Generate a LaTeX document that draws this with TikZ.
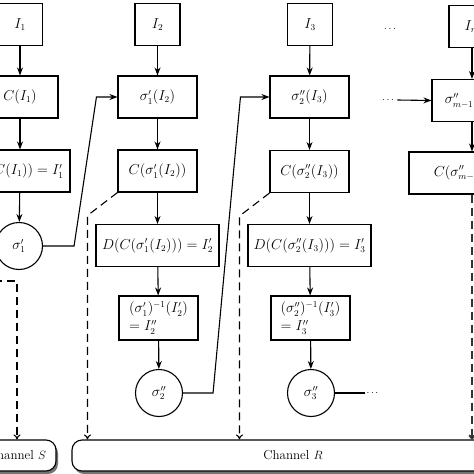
\documentclass[tikz,border=0pt]{standalone}
\usetikzlibrary{arrows.meta,shadows}

\tikzset{
  blk/.style={draw, line width=1.1pt, minimum height=42pt, inner sep=2pt,
    font=\fontsize{13.5}{18}\selectfont},
  sig/.style={draw, circle, line width=1.1pt, minimum size=47pt, inner sep=0pt,
    font=\fontsize{13.5}{16}\selectfont},
  chan/.style={draw, line width=1.1pt, rounded corners=10pt, fill=white,
    minimum height=31pt, font=\fontsize{13}{15}\selectfont,
    drop shadow={shadow xshift=2pt, shadow yshift=-3pt, fill=black!55, opacity=1}},
  arr/.style={line width=1.1pt, -{Stealth[length=8pt,width=6pt]}},
  dsh/.style={line width=1.1pt, dash pattern=on 8pt off 5pt, -{To[length=5pt,width=7pt]}},
}

\begin{document}
\begin{tikzpicture}[x=1pt,y=-1pt]
  \useasboundingbox (0,0) rectangle (474,474);
  % column 1
  \node[blk, minimum width=45pt]  (i1) at (20,24.5) {$I_1$};
  \node[blk, minimum width=76pt]  (c1) at (20,97)   {$C(I_1)$};
  \node[blk, minimum width=100pt] (d1) at (20,171)  {$D(C(I_1)) = I_1'$};
  \node[sig] (s1) at (19,246) {$\sigma_1'$};
  % column 2
  \node[blk, minimum width=45pt]  (i2) at (157.5,24.5) {$I_2$};
  \node[blk, minimum width=79pt]  (p2) at (157.5,97)   {$\sigma_1'(I_2)$};
  \node[blk, minimum width=79pt]  (c2) at (157.5,171)  {$C(\sigma_1'(I_2))$};
  \node[blk, minimum width=123pt] (d2) at (157.5,245.5) {$D(C(\sigma_1'(I_2))) = I_2'$};
  \node[blk, minimum width=79pt, minimum height=44pt, align=left] (r2) at (158.5,318)
    {$(\sigma_1')^{-1}(I_2')$\\$= I_2''$};
  \node[sig] (s2) at (159,393) {$\sigma_2''$};
  % column 3
  \node[blk, minimum width=45pt]  (i3) at (310,24.5) {$I_3$};
  \node[blk, minimum width=79pt]  (p3) at (309.5,97)  {$\sigma_2''(I_3)$};
  \node[blk, minimum width=79pt]  (c3) at (309.5,171.5) {$C(\sigma_2''(I_3))$};
  \node[blk, minimum width=123pt] (d3) at (309.5,245.5) {$D(C(\sigma_2''(I_3))) = I_3'$};
  \node[blk, minimum width=79pt, minimum height=44pt, align=left] (r3) at (310.5,318)
    {$(\sigma_2'')^{-1}(I_3')$\\$= I_3''$};
  \node[sig] (s3) at (311,393) {$\sigma_3''$};
  % column m
  \node[blk, minimum width=46pt]  (im) at (472,26.5) {$I_m$};
  \node[blk, minimum width=80pt]  (pm) at (472,100.5) {$\sigma_{m-1}''(I_m)$};
  \node[blk, minimum width=126pt] (cm) at (472,173) {$C(\sigma_{m-1}''(I_m))$};
  \node (dt1) at (390,29)  {$\cdots$};
  \node (dt2) at (388,100) {$\cdots$};
  % channels
  \node[chan, minimum width=78pt]  (chs) at (17,455.5)  {Channel $S$};
  \node[chan, minimum width=442pt] (chr) at (293,455.5) {Channel $R$};

  % arrows down the columns
  \draw[arr] (i1) -- (c1);
  \draw[arr] (c1) -- (d1);
  \draw[arr] (d1) -- (s1);
  \draw[arr] (i2) -- (p2);
  \draw[arr] (p2) -- (c2);
  \draw[arr] (c2) -- (d2);
  \draw[arr] (d2) -- (r2);
  \draw[arr] (r2) -- (s2);
  \draw[arr] (i3) -- (p3);
  \draw[arr] (p3) -- (c3);
  \draw[arr] (c3) -- (d3);
  \draw[arr] (d3) -- (r3);
  \draw[arr] (r3) -- (s3);
  \draw[arr] (im) -- (pm);
  \draw[arr] (pm) -- (cm);
  % keys handed on
  \draw[arr] (s1.east) -- ++(31,0) -- ([xshift=-21pt]p2.west) -- (p2.west);
  \draw[arr] (s2.east) -- ++(30,0) -- ([xshift=-29pt]p3.west) -- (p3.west);
  \draw[arr] (dt2.east) -- (pm.west);
  \draw[line width=1.1pt] (s3.east) -- ++(30,0) node[right, inner sep=1pt] (dt3) {$\cdots$};
  % to the channels
  \coordinate (t1) at (-6,281);
  \draw[dsh] (t1) -- ++(23,0) coordinate (u1) -- (u1 |- chs.north);
  \draw[dsh] (c2.south west) -- ++(-30,23) coordinate (u2) -- (u2 |- chr.north);
  \draw[dsh] (c3.south west) -- ++(-30,23) coordinate (u3) -- (u3 |- chr.north);
  \draw[dsh, line width=2pt, black!80] (cm.south) -- (cm.south |- chr.north);
\end{tikzpicture}
\end{document}
